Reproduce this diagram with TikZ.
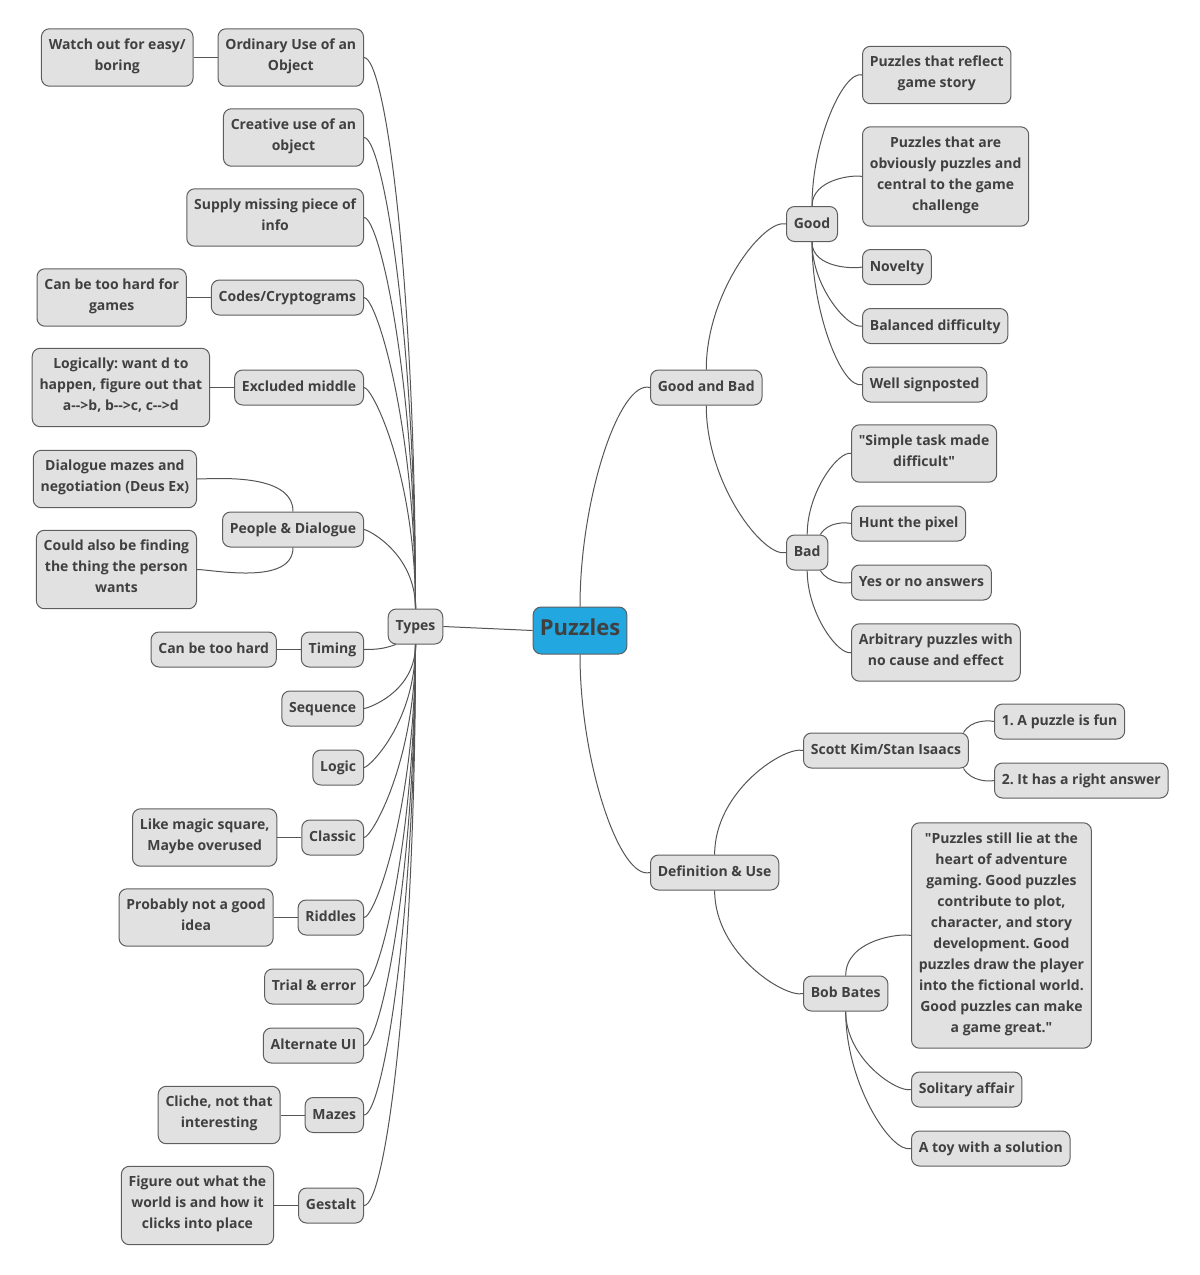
\documentclass[tikz,border=0pt]{standalone}
\usepackage{fontspec}
\setmainfont{Open Sans}[Ligatures=TeXOff]
\usetikzlibrary{positioning}
\frenchspacing

\definecolor{boxfill}{HTML}{E1E1E1}
\definecolor{boxline}{HTML}{5E5E5E}
\definecolor{ink}{HTML}{404040}
\definecolor{rootblue}{HTML}{22A7E0}
\definecolor{linkgray}{HTML}{555555}

\begin{document}
\begin{tikzpicture}[
  x=0.75pt, y=-0.75pt,
  font=\bfseries\fontsize{10.5}{15.75}\selectfont,
  topic/.style={draw=boxline, fill=boxfill, text=ink, rounded corners=6pt,
                line width=0.75pt, align=center, inner xsep=5.5pt, inner ysep=5.25pt,
                execute at begin node=\strut},
  block/.style={topic, inner ysep=7.3pt},
  root/.style={topic, fill=rootblue, minimum height=35.25pt, inner xsep=5pt,
               font=\bfseries\fontsize{16.5}{20}\selectfont},
  link/.style={draw=linkgray, line width=0.75pt},
  lup/.style={out=90, in=0, out looseness=1.5, in looseness=0.1},
  ldown/.style={out=-90, in=0, out looseness=1.5, in looseness=0.1},
  rup/.style={out=90, in=165, out looseness=1.2, in looseness=0.35},
  rdown/.style={out=-90, in=195, out looseness=1.2, in looseness=0.35},
]
  \useasboundingbox (0,0) rectangle (1200,1275);

  % centre
  \node[root] (puzzles) at (580,630.5) {Puzzles};
  \node[topic] (types) at (415.5,626.5) {Types};

  % kinds of puzzle, left side
  \node[block, anchor=east] (ord) at (364,57.5) {Ordinary Use of an\\Object};
  \node[block, left=18pt of ord] (ordnote) {Watch out for easy/\\boring};
  \node[block, anchor=east] (crea) at (364,137.5) {Creative use of an\\object};
  \node[block, anchor=east] (supp) at (364,217.5) {Supply missing piece of\\info};
  \node[topic, anchor=east] (codes) at (364,297.5) {Codes/Cryptograms};
  \node[block, left=18pt of codes] (codesnote) {Can be too hard for\\games};
  \node[topic, anchor=east] (excl) at (364,387.5) {Excluded middle};
  \node[block, left=18pt of excl] (exclnote)
    {Logically: want d to\\happen, figure out that\\a-->b, b-->c, c-->d};
  \node[topic, anchor=east] (people) at (364,529.5) {People \& Dialogue};
  \node[block, anchor=east] (dialog) at (197,479) {Dialogue mazes and\\negotiation (Deus Ex)};
  \node[block, anchor=east] (finding) at (197,569.5)
    {Could also be finding\\the thing the person\\wants};
  \node[topic, anchor=east] (timing) at (364,649.5) {Timing};
  \node[topic, left=18pt of timing] (timingnote) {Can be too hard};
  \node[topic, anchor=east] (seq) at (364,708.5) {Sequence};
  \node[topic, anchor=east] (logic) at (364,767.5) {Logic};
  \node[topic, anchor=east] (classic) at (364,837.5) {Classic};
  \node[block, left=18pt of classic] (classicnote) {Like magic square,\\Maybe overused};
  \node[topic, anchor=east] (riddles) at (364,917.5) {Riddles};
  \node[block, left=18pt of riddles] (riddlesnote) {Probably not a good\\idea};
  \node[topic, anchor=east] (trial) at (364,986.5) {Trial \& error};
  \node[topic, anchor=east] (altui) at (364,1045.5) {Alternate UI};
  \node[topic, anchor=east] (mazes) at (364,1115) {Mazes};
  \node[block, left=18pt of mazes] (mazesnote) {Cliche, not that\\interesting};
  \node[topic, anchor=east] (gestalt) at (364,1205.5) {Gestalt};
  \node[block, left=18pt of gestalt] (gestaltnote)
    {Figure out what the\\world is and how it\\clicks into place};

  % good and bad, right side
  \node[topic, anchor=west] (gb) at (650,387.5) {Good and Bad};
  \node[topic, anchor=west] (good) at (786,224) {Good};
  \node[block, anchor=west] (reflect) at (862,75) {Puzzles that reflect\\game story};
  \node[block, anchor=west] (obvious) at (862,176.5)
    {Puzzles that are\\obviously puzzles and\\central to the game\\challenge};
  \node[topic, anchor=west] (novelty) at (862,267) {Novelty};
  \node[topic, anchor=west] (balanced) at (862,326) {Balanced difficulty};
  \node[topic, anchor=west] (signposted) at (862,384.5) {Well signposted};
  \node[topic, anchor=west] (bad) at (786,552.5) {Bad};
  \node[block, anchor=west] (simple) at (851,453.5) {"Simple task made\\difficult"};
  \node[topic, anchor=west] (hunt) at (851,523.5) {Hunt the pixel};
  \node[topic, anchor=west] (yesno) at (851,582.5) {Yes or no answers};
  \node[block, anchor=west] (arbitrary) at (851,652.5)
    {Arbitrary puzzles with\\no cause and effect};

  % definition and use
  \node[topic, anchor=west] (du) at (650,872.5) {Definition \& Use};
  \node[topic, anchor=west] (scott) at (803,750.5) {Scott Kim/Stan Isaacs};
  \node[topic, anchor=west] (fun) at (994,721.5) {1. A puzzle is fun};
  \node[topic, anchor=west] (answer) at (994,780.5) {2. It has a right answer};
  \node[topic, anchor=west] (bob) at (803,993.5) {Bob Bates};
  \node[block, anchor=west] (quote) at (911,935.5)
    {"Puzzles still lie at the\\heart of adventure\\gaming. Good puzzles\\contribute to plot,\\character, and story\\development. Good\\puzzles draw the player\\into the fictional world.\\Good puzzles can make\\a game great."};
  \node[topic, anchor=west] (solitary) at (911,1089.5) {Solitary affair};
  \node[topic, anchor=west] (toy) at (911,1148.5) {A toy with a solution};

  % connectors
  \draw[link] (puzzles.west) -- (types.east);
  \draw[link] (puzzles.north) to[rup] (gb.west);
  \draw[link] (puzzles.south) to[rdown] (du.west);

  \foreach \n in {ord,crea,supp,codes,excl,people}
    \draw[link] (types.north) to[lup] (\n.east);
  \draw[link] ([xshift=6pt]types.south west) to[out=200, in=0] (timing.east);
  \foreach \n in {seq,logic,classic,riddles,trial,altui,mazes,gestalt}
    \draw[link] (types.south) to[ldown] (\n.east);

  \draw[link] (ord) -- (ordnote);
  \draw[link] (codes) -- (codesnote);
  \draw[link] (excl) -- (exclnote);
  \draw[link] (timing) -- (timingnote);
  \draw[link] (classic) -- (classicnote);
  \draw[link] (riddles) -- (riddlesnote);
  \draw[link] (mazes) -- (mazesnote);
  \draw[link] (gestalt) -- (gestaltnote);
  \draw[link] (people.north) to[lup, out looseness=1, in looseness=0.4] (dialog.east);
  \draw[link] (people.south) to[ldown, out looseness=1, in looseness=0.4] (finding.east);

  \draw[link] (gb.north) to[rup] (good.west);
  \draw[link] (gb.south) to[rdown] (bad.west);
  \foreach \n in {reflect,obvious}
    \draw[link] (good.north) to[rup] (\n.west);
  \foreach \n in {novelty,balanced,signposted}
    \draw[link] (good.south) to[rdown] (\n.west);
  \draw[link] (bad.north) to[rup] (simple.west);
  \draw[link] ([xshift=-6pt]bad.north east) to[rup, out=60] (hunt.west);
  \draw[link] ([xshift=-6pt]bad.south east) to[rdown, out=-60] (yesno.west);
  \draw[link] (bad.south) to[rdown] (arbitrary.west);

  \draw[link] (du.north) to[rup] (scott.west);
  \draw[link] (du.south) to[rdown] (bob.west);
  \draw[link] ([xshift=-4pt]scott.north east) to[rup, out=60] (fun.west);
  \draw[link] ([xshift=-4pt]scott.south east) to[rdown, out=-60] (answer.west);
  \draw[link] (bob.north) to[rup] (quote.west);
  \foreach \n in {solitary,toy}
    \draw[link] (bob.south) to[rdown] (\n.west);
\end{tikzpicture}
\end{document}
